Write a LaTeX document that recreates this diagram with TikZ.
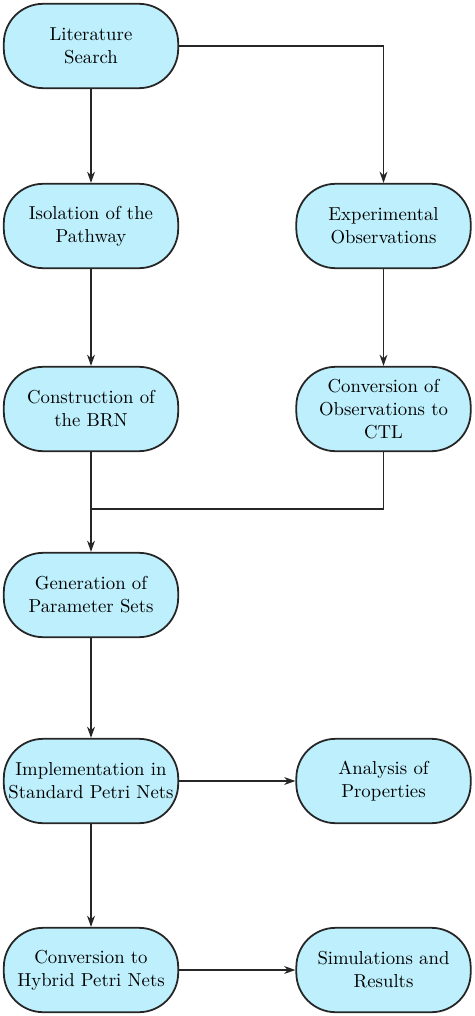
\documentclass[tikz,border=0pt]{standalone}
\usetikzlibrary{arrows.meta}
\definecolor{boxfill}{RGB}{189,239,252}
\begin{document}
\begin{tikzpicture}[x=0.5333pt,y=-0.5333pt,
  stepbox/.style={draw=black!85, line width=0.95pt, fill=boxfill, rounded corners=21pt,
    minimum width=93pt, minimum height=45pt, align=center, inner sep=1pt,
    font=\fontsize{10}{12.3}\selectfont},
  conn/.style={draw=black!85, line width=0.8pt, -{Stealth[length=6pt,width=4.2pt]}},
  plain/.style={draw=black!85, line width=0.8pt}]
\useasboundingbox (0,0) rectangle (474,1016);
\node[stepbox] (lit) at (91,46) {Literature\\Search};
\node[stepbox] (iso) at (91,226) {Isolation of the\\Pathway};
\node[stepbox] (exp) at (383.5,226) {Experimental\\Observations};
\node[stepbox] (brn) at (91,409) {Construction of\\the BRN};
\node[stepbox] (ctl) at (383.5,409) {Conversion of\\Observations to\\CTL};
\node[stepbox] (gen) at (91,595) {Generation of\\Parameter Sets};
\node[stepbox] (imp) at (91,781) {Implementation in\\Standard Petri Nets};
\node[stepbox] (ana) at (383.5,781) {Analysis of\\Properties};
\node[stepbox] (hyb) at (91,970) {Conversion to\\Hybrid Petri Nets};
\node[stepbox] (sim) at (383.5,970) {Simulations and\\Results};
\coordinate (merge) at (91,509);
\draw[conn] (lit) -- (iso);
\draw[conn] (lit.east) -| (exp.north);
\draw[conn] (iso) -- (brn);
\draw[conn] (exp) -- (ctl);
\draw[conn] (brn) -- (gen);
\draw[plain] (ctl.south) |- (merge);
\draw[conn] (gen) -- (imp);
\draw[conn] (imp) -- (ana);
\draw[conn] (imp) -- (hyb);
\draw[conn] (hyb) -- (sim);
\end{tikzpicture}
\end{document}
